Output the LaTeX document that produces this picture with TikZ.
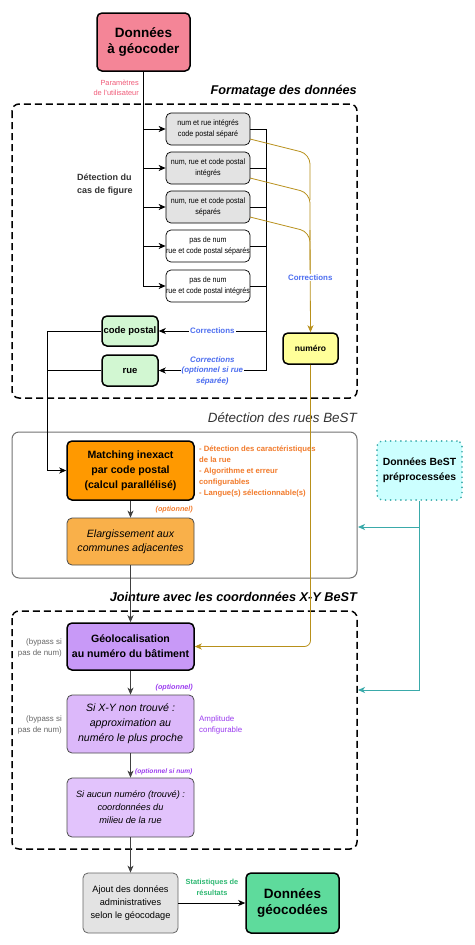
\documentclass[tikz,border=0pt]{standalone}
\usepackage{fontspec}
\setmainfont{Liberation Sans}
\newfontfamily\narrowf[FakeStretch=0.9]{Liberation Sans}
\usetikzlibrary{arrows.meta}
\definecolor{cpink}{HTML}{F48597}
\definecolor{corange}{HTML}{FF9900}
\definecolor{clorange}{HTML}{F9B04A}
\definecolor{cpurple}{HTML}{C899F7}
\definecolor{clpurple}{HTML}{DCB8FA}
\definecolor{cllpurple}{HTML}{E2C3FC}
\definecolor{clgreen}{HTML}{D2F7D2}
\definecolor{cyellow}{HTML}{FFFF99}
\definecolor{ccyan}{HTML}{CCFFFF}
\definecolor{cgreen}{HTML}{5EDB9C}
\definecolor{cgray}{HTML}{E3E3E3}
\definecolor{cblue}{HTML}{4D6EF0}
\definecolor{ctxtorange}{HTML}{F27A2A}
\definecolor{ctxtpurple}{HTML}{9B3BF0}
\definecolor{ctxtgreen}{HTML}{2EB872}
\definecolor{cgold}{HTML}{B8901A}
\definecolor{cteal}{HTML}{3AAAAA}
\definecolor{cpinktxt}{HTML}{F05A78}
\newcommand{\fs}[2]{\fontsize{#1}{#2}\selectfont}
\tikzset{
  box/.style={draw, rounded corners=5pt, align=center, inner sep=0pt},
  thickbox/.style={box, line width=1.5pt},
  casebox/.style={box, rounded corners=5pt, line width=0.7pt, minimum width=84pt, minimum height=32pt, font=\narrowf\fs{7.9}{10.7}},
  dashbox/.style={line width=1.5pt, dash pattern=on 7pt off 4pt, rounded corners=7pt},
  arr/.style={-{Stealth[length=7pt,width=6pt,inset=2pt]}},
  lbl/.style={inner sep=1pt, align=center},
}
\begin{document}
\begin{tikzpicture}[x=1pt,y=-1pt]
\useasboundingbox (0,0) rectangle (474,945);
\fill[white] (0,0) rectangle (474,945);

% group frames
\draw[dashbox] (12,104) rectangle (357,398);
\draw[line width=1pt, black!55, rounded corners=7pt] (12,432) rectangle (357,578);
\draw[dashbox] (12,611) rectangle (357,849);

% titles
\node[lbl, anchor=east, font=\bfseries\itshape\fs{12.7}{14}] (t1) at (358,91) {Formatage des données};
\node[lbl, anchor=east, font=\itshape\fs{13.4}{15}, text=black!80] (t2) at (358,418) {Détection des rues BeST};
\node[lbl, anchor=east, font=\bfseries\itshape\fs{12.7}{14}] (t3) at (358,597) {Jointure avec les coordonnées X-Y BeST};

% main nodes
\node[thickbox, fill=cpink, minimum width=93pt, minimum height=58pt, font=\bfseries\fs{13.5}{16}] (src) at (143.5,42) {Données\\à géocoder};

\node[casebox, fill=cgray] (c1) at (208,129) {num et rue intégrés\\code postal séparé};
\node[casebox, fill=cgray] (c2) at (208,168) {num, rue et code postal\\intégrés};
\node[casebox, fill=cgray] (c3) at (208,207) {num, rue et code postal\\séparés};
\node[casebox, fill=white] (c4) at (208,246) {pas de num\\rue et code postal séparés};
\node[casebox, fill=white] (c5) at (208,286) {pas de num\\rue et code postal intégrés};

\node[thickbox, fill=clgreen, minimum width=56pt, minimum height=30pt, font=\bfseries\fs{9.5}{11}] (cp) at (130,331) {code postal};
\node[thickbox, fill=clgreen, minimum width=56pt, minimum height=31pt, font=\bfseries\fs{9.5}{11}] (rue) at (130,370.5) {rue};
\node[thickbox, fill=cyellow, minimum width=55pt, minimum height=31pt, font=\bfseries\fs{8.5}{10}] (num) at (310.5,348.5) {numéro};

\node[thickbox, fill=corange, minimum width=127pt, minimum height=59pt, font=\bfseries\fs{10.6}{15}] (match) at (130.5,470.5) {Matching inexact\\par code postal\\(calcul parallélisé)};
\node[box, line width=0.8pt, draw=black!70, fill=clorange, minimum width=127pt, minimum height=47pt, font=\itshape\fs{10.6}{14}] (elarg) at (130.5,541.5) {Elargissement aux\\communes adjacentes};

\node[box, line width=1.8pt, draw=cteal, dash pattern=on 0.1pt off 5pt, line cap=round, fill=ccyan, minimum width=85pt, minimum height=59pt, font=\bfseries\fs{10.4}{15}] (best) at (419.5,470.5) {Données BeST\\préprocessées};

\node[thickbox, fill=cpurple, minimum width=127pt, minimum height=47pt, font=\bfseries\fs{10.6}{15}] (geo) at (130.5,646.5) {Géolocalisation\\au numéro du bâtiment};
\node[box, line width=0.8pt, draw=black!70, fill=clpurple, minimum width=127pt, minimum height=58pt, font=\itshape\fs{10.6}{15}] (sixy) at (130.5,724) {Si X-Y non trouvé :\\approximation au\\numéro le plus proche};
\node[box, line width=0.8pt, draw=black!70, fill=cllpurple, minimum width=127pt, minimum height=59pt, font=\itshape\fs{9.2}{13}] (aucun) at (130.5,807.5) {Si aucun numéro (trouvé) :\\coordonnées du\\milieu de la rue};

\node[box, line width=0.8pt, draw=black!60, fill=cgray, minimum width=95pt, minimum height=60pt, font=\fs{9.2}{13}] (ajout) at (130.5,903) {Ajout des données\\administratives\\selon le géocodage};
\node[thickbox, fill=cgreen, minimum width=93pt, minimum height=60pt, font=\bfseries\fs{13.5}{16}] (out) at (292.5,903) {Données\\géocodées};

% text labels
\node[lbl, anchor=east, text=cpinktxt, font=\fs{7.4}{10}, align=right] (param) at (140,88) {Paramètres\\de l'utilisateur};
\node[lbl, font=\bfseries\fs{9}{13}, text=black!80, align=left] (detc) at (105,185) {Détection du\\cas de figure};
\node[lbl, anchor=west, text=ctxtorange, font=\bfseries\fs{7.7}{11}, align=left] (feat) at (198,471) {- Détection des caractéristiques\\de la rue\\- Algorithme et erreur\\configurables\\- Langue(s) sélectionnable(s)};
\node[lbl, anchor=east, text=ctxtorange, font=\bfseries\itshape\fs{7.2}{9}] (opt1) at (194,510) {(optionnel)};
\node[lbl, anchor=east, text=ctxtpurple, font=\bfseries\itshape\fs{7.2}{9}] (opt2) at (194,688) {(optionnel)};
\node[lbl, anchor=west, text=ctxtpurple, font=\bfseries\itshape\fs{6.6}{9}] (opt3) at (134,772) {(optionnel si num)};
\node[lbl, anchor=west, text=ctxtpurple, font=\fs{7.9}{11}, align=left] (ampl) at (198,724.5) {Amplitude\\configurable};
\node[lbl, anchor=east, text=black!60, font=\fs{7.9}{11}, align=right] (byp1) at (63,648) {(bypass si\\pas de num)};
\node[lbl, anchor=east, text=black!60, font=\fs{7.9}{11}, align=right] (byp2) at (63,724.5) {(bypass si\\pas de num)};
\node[lbl, text=ctxtgreen, font=\bfseries\fs{7.4}{11}] (stats) at (212,887) {Statistiques de\\résultats};

% trunk from source
\coordinate (tk) at (143.5,287);
\draw[line width=0.8pt] (src.south) -- (tk);
\foreach \c in {c1,c2,c3,c4,c5}{
  \draw[line width=0.8pt, arr] (143.5,0 |- \c.west) -- (\c.west);
}
% right collector
\coordinate (rc) at (266,370.5);
\draw[line width=0.8pt] (266,129) -- (rc);
\foreach \c in {c1,c2,c3,c4,c5}{
  \draw[line width=0.8pt] (\c.east) -- (266,0 |- \c.east);
}
\draw[line width=0.8pt, arr] (266,331) -- node[lbl, fill=white, text=cblue, font=\bfseries\fs{7.9}{10}] (corr1) {Corrections} (cp.east);
\draw[line width=0.8pt, arr] (rc) -- node[lbl, fill=white, text=cblue, font=\bfseries\itshape\fs{7.9}{10.5}] (corr2) {Corrections\\(optionnel si rue\\séparée)} (rue.east);

% golden numero lines
\draw[cgold, line width=0.8pt, rounded corners=10pt] (250,139) -- (310,154) -- (310,200);
\draw[cgold, line width=0.8pt, rounded corners=10pt] (250,178) -- (310,193) -- (310,240);
\draw[cgold, line width=0.8pt, rounded corners=10pt] (250,217) -- (310,232) -- (310,270);
\draw[cgold, line width=0.8pt, arr] (310,230) -- node[lbl, fill=white, text=cblue, font=\bfseries\fs{7.9}{10}, pos=0.465] (corr3) {Corrections} (num.north);
\draw[cgold, line width=0.8pt, arr, rounded corners=6pt] (num.south) -- (310.5,0 |- geo.east) -- (geo.east);

% left collector to matching
\draw[line width=0.8pt] (cp.west) -- (47,331);
\draw[line width=0.8pt] (rue.west) -- (47,370.5);
\draw[line width=0.8pt, arr] (47,331) -- (47,0 |- match.west) -- (match.west);

% vertical chain
\draw[line width=0.8pt, black!75, arr] (match.south) -- (elarg.north);
\draw[line width=0.8pt, black!75, arr] (elarg.south) -- (geo.north);
\draw[line width=0.8pt, black!75, arr] (geo.south) -- (sixy.north);
\draw[line width=0.8pt, black!75, arr] (sixy.south) -- (aucun.north);
\draw[line width=0.8pt, black!75, arr] (aucun.south) -- (ajout.north);
\draw[line width=0.8pt, arr] (ajout.east) -- (out.west);

% teal BeST lines
\coordinate (bt1) at (358,527);
\coordinate (bt2) at (358,690);
\draw[cteal, line width=0.9pt, arr] (best.south) -- (419.5,690) -- (bt2);
\draw[cteal, line width=0.9pt, arr] (419.5,527) -- (bt1);
\end{tikzpicture}
\end{document}
